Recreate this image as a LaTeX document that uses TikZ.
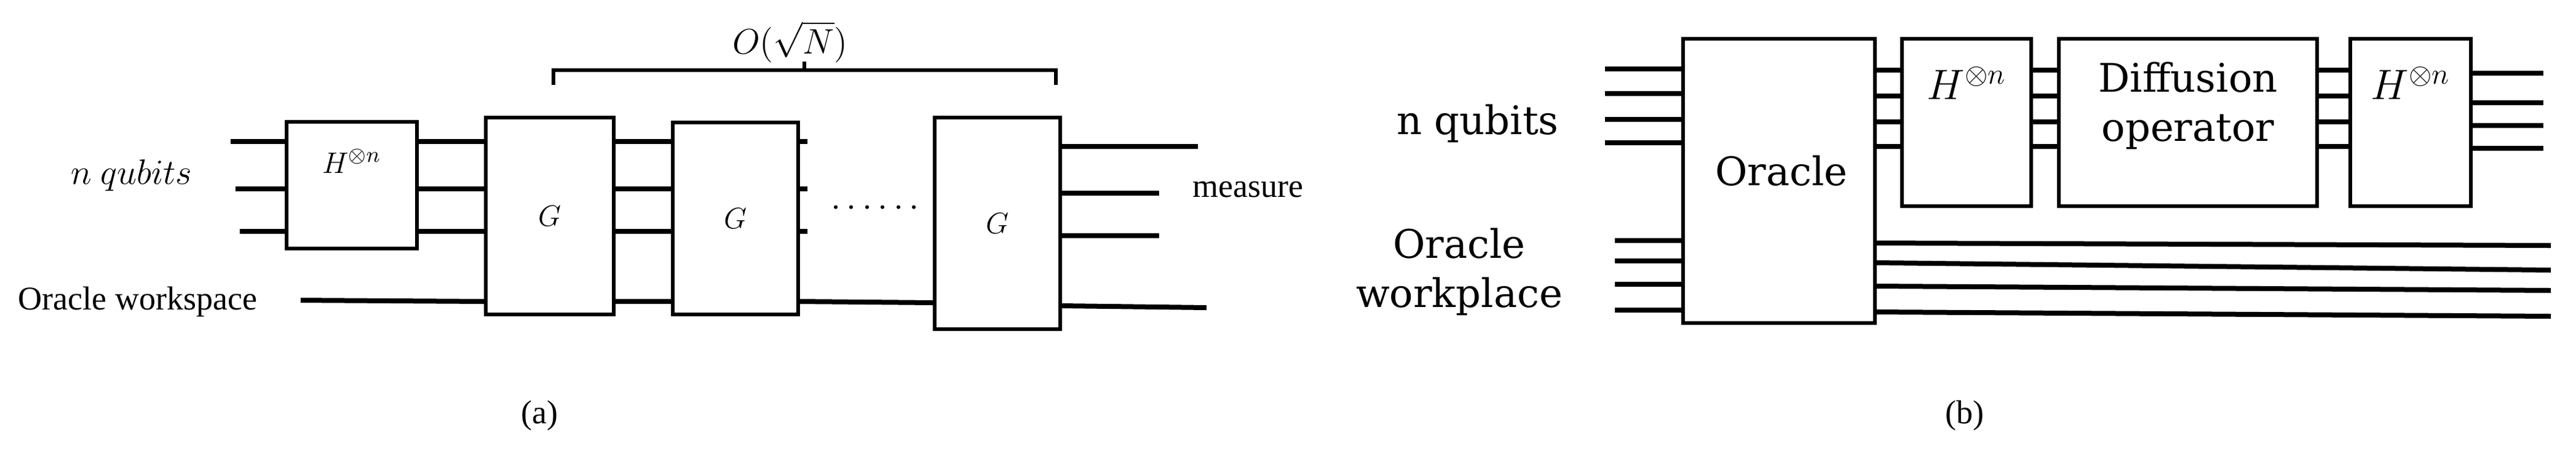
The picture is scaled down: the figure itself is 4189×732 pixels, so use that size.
\documentclass[tikz,border=0pt]{standalone}
\usepackage{fontspec}
\setmainfont{Liberation Serif}
\newfontfamily\tnr{Liberation Serif}
\newfontfamily\dvs{DejaVu Serif}
\begin{document}
\begin{tikzpicture}[x=0.25pt,y=-0.25pt,
  gate/.style={draw,line width=1.4pt,fill=white,inner sep=0pt},
  wire/.style={line width=2pt},
  lbl/.style={font=\tnr\fontsize{13.5}{16}\selectfont},
  lblb/.style={font=\dvs\fontsize{16}{20}\selectfont,align=center}]
\useasboundingbox (0,0) rectangle (4189,732);
% ---------- (a)
\node[gate,minimum width=53pt,minimum height=51.5pt] (H) at (572,301) {};
\node[font=\tnr\fontsize{13}{15}\selectfont] at (572,262) {$H^{\otimes n}$};
\node[gate,minimum width=52pt,minimum height=80pt] (G1) at (894,351) {\fontsize{13}{15}\selectfont$G$};
\node[gate,minimum width=51pt,minimum height=78pt] (G2) at (1196,355) {\fontsize{13}{15}\selectfont$G$};
\node[gate,minimum width=51pt,minimum height=86pt] (G3) at (1622,363) {\fontsize{13}{15}\selectfont$G$};
\foreach \y/\xs in {230/375,307/383,376/390}{
  \draw[wire] (\xs,\y) -- (H.west |- 0,\y);
  \draw[wire] (H.east |- 0,\y) -- (G1.west |- 0,\y);
  \draw[wire] (G1.east |- 0,\y) -- (G2.west |- 0,\y);
  \draw[wire] (G2.east |- 0,\y) -- ++(12,0);}
\draw[wire] (489,488) -- (G1.west |- 0,490);
\draw[wire] (G1.east |- 0,490) -- (G2.west |- 0,490);
\draw[wire] (G2.east |- 0,490) -- (G3.west |- 0,492);
\draw[wire] (G3.east |- 0,238) -- (1948,238);
\draw[wire] (G3.east |- 0,314) -- (1885,314);
\draw[wire] (G3.east |- 0,383) -- (1885,383);
\draw[wire] (G3.east |- 0,497) -- (1962,500);
\node[lbl] at (1423,339) {$\cdots\cdots$};
\node[lbl] at (214,285) {\fontsize{14}{16}\selectfont$n$ $qubits$};
\node[lbl] at (224,490) {Oracle workspace};
\node[lbl,anchor=west] at (1925,308) {measure};
\draw[line width=1.6pt] (900,138) -- (900,114) -- (1717,114) -- (1717,138);
\draw[line width=1.6pt] (1308,114) -- (1308,100);
\node[lbl,inner sep=0pt] at (1285,68) {$O(\sqrt{N})$};
\node[lbl] at (877,675) {(a)};
% ---------- (b)
\node[gate,minimum width=78pt,minimum height=115.5pt] (Or) at (2893,294) {};
\node[lblb] at (2897,278) {Oracle};
\node[gate,minimum width=52.5pt,minimum height=68pt] (H1) at (3198,199) {};
\node at (3198,135) {\fontsize{18}{21}\selectfont$H^{\otimes n}$};
\node[gate,minimum width=105pt,minimum height=68pt] (D) at (3558,199) {};
\node[lblb] at (3558,172) {Diffusion\\operator};
\node[gate,minimum width=49pt,minimum height=68pt] (H2) at (3920,199) {};
\node at (3920,135) {\fontsize{18}{21}\selectfont$H^{\otimes n}$};
\foreach \yi/\yo/\yf in {112/114/119,152/156/167,194/198/204,232/238/241}{
  \draw[wire] (2610,\yi) -- (Or.west |- 0,\yi);
  \draw[wire] (Or.east |- 0,\yo) -- (H1.west |- 0,\yo);
  \draw[wire] (H1.east |- 0,\yo) -- (D.west |- 0,\yo);
  \draw[wire] (D.east |- 0,\yo) -- (H2.west |- 0,\yo);
  \draw[wire] (H2.east |- 0,\yf) -- (4136,\yf);}
\foreach \yi/\ya/\yb in {391/395/399,424/427/439,462/465/472,504/507/514}{
  \draw[wire] (2626,\yi) -- (Or.west |- 0,\yi);
  \draw[wire] (Or.east |- 0,\ya) -- (4148,\yb);}
\node[lblb] at (2403,201) {n qubits};
\node[lblb] at (2373,442) {Oracle\\workplace};
\node[lbl] at (3195,675) {(b)};
\end{tikzpicture}
\end{document}
